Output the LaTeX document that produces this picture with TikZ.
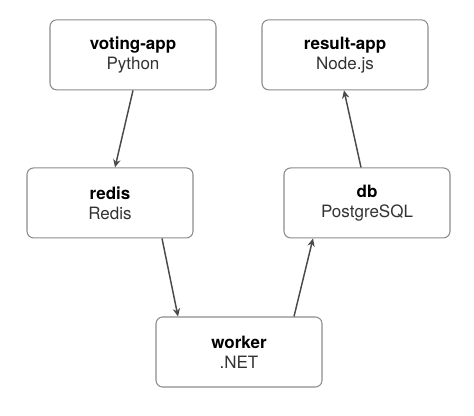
\documentclass[tikz,border=0pt]{standalone}
\usepackage{fontspec}
\setmainfont{TeX Gyre Heros}
\usepackage{xcolor}
\usetikzlibrary{positioning,arrows.meta}
\definecolor{boxgray}{HTML}{8C8C8C}
\definecolor{linegray}{HTML}{4A4A4A}
\definecolor{techgray}{HTML}{333333}
\newcommand{\svc}[2]{{\bfseries #1}\\{\color{techgray}#2}}

\begin{document}
\begin{tikzpicture}[-{Stealth[length=6pt,width=5.5pt]},auto,thick,
    every edge/.style={draw=linegray,line width=1.1pt},
    service/.style={draw=boxgray,line width=0.8pt,rounded corners=5pt,fill=white,
        minimum width=124.5pt,minimum height=52.5pt,align=center,inner sep=2pt,
        font=\fontsize{12.75}{15}\selectfont}]
            \useasboundingbox (0,0) rectangle (355.5pt,-312pt);

            \node[service] (worker) at (179.25pt,-264pt) {\svc{worker}{.NET}};

            \node[service] (redis) [above=58.5pt of worker, xshift=-96.75pt] {\svc{redis}{Redis}};
            \node[service] (db) [above=58.5pt of worker, xshift=96pt] {\svc{db}{PostgreSQL}};

            \node[service] (vote) [above=57.75pt of redis, xshift=17.25pt] {\svc{voting-app}{Python}};
            \node[service] (result) [above=57.75pt of db, xshift=-16.5pt] {\svc{result-app}{Node.js}};

            \path
                (vote.south) edge ([xshift=3.75pt]redis.north)
                ([xshift=39pt]redis.south) edge ([xshift=-45.75pt]worker.north)
                ([xshift=41.25pt]worker.north) edge ([xshift=-40.5pt]db.south)
                ([xshift=-4.5pt]db.north) edge ([xshift=-0.75pt]result.south)
                ;
        \end{tikzpicture}
\end{document}
